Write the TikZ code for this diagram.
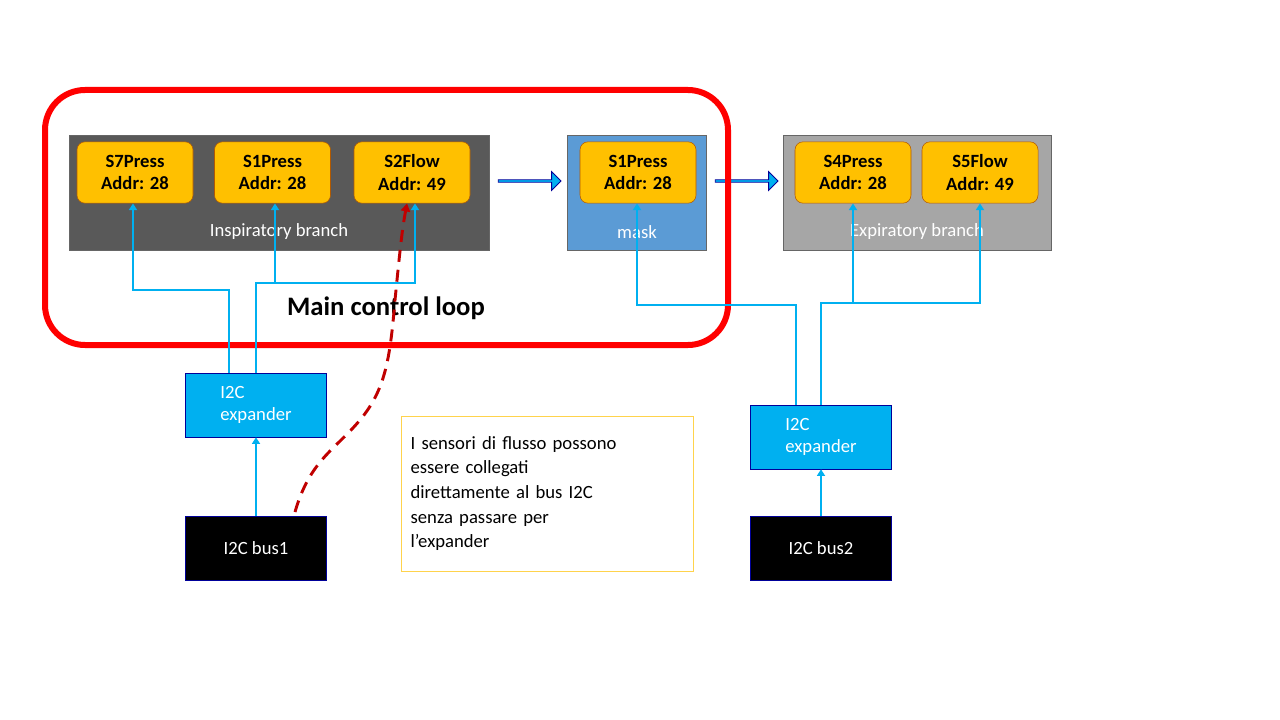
\documentclass[tikz,border=0pt]{standalone}
\usepackage{fontspec}
\setmainfont{Carlito}
\usetikzlibrary{arrows.meta,shapes.arrows}
\definecolor{cyanb}{HTML}{00B0F0}
\definecolor{sensy}{HTML}{FFC000}
\definecolor{darkg}{HTML}{595959}
\definecolor{maskb}{HTML}{5B9BD5}
\definecolor{lightg}{HTML}{A6A6A6}
\definecolor{dred}{HTML}{C00000}
\begin{document}
\begin{tikzpicture}[x=0.75pt,y=-0.75pt,
  sensor/.style={draw=orange!70!black,fill=sensy,rounded corners=6pt,minimum width=87pt,minimum height=46pt,
    inner sep=0pt,align=center,font=\fontsize{14}{17}\selectfont\bfseries},
  branch/.style={draw=gray!80!black,minimum height=86pt,inner sep=0pt},
  box/.style={minimum width=106pt,minimum height=48pt,inner sep=0pt,text=white,font=\fontsize{14}{17}\selectfont},
  wire/.style={cyanb,line width=2.2pt},
  tip/.style={-{Triangle[width=6pt,length=5pt]}},
  barrow/.style={single arrow,draw=blue!60!black,fill=cyanb,minimum height=47pt,minimum width=14pt,
    single arrow head extend=2pt,inner sep=0pt,line width=0.6pt}]
\useasboundingbox (0,0) rectangle (1280,720);
% branches
\node[branch,fill=darkg,minimum width=315pt] (insp) at (279.5,192.5) {};
\node[branch,fill=maskb,minimum width=104pt] (mask) at (636.5,192.5) {};
\node[branch,fill=lightg,minimum width=201pt] (exp) at (917,192.5) {};
\node[text=white,font=\fontsize{14}{17}\selectfont] (tinsp) at (279,232) {Inspiratory branch};
\node[text=white,font=\fontsize{14}{17}\selectfont] (tmask) at (637,232) {mask};
\node[text=white,font=\fontsize{14}{17}\selectfont] (texp) at (917,232) {Expiratory branch};
% sensors
\node[sensor] (s7) at (135,172.5) {S7Press\\Addr: 28};
\node[sensor] (s1) at (272.5,172.5) {S1Press\\Addr: 28};
\node[sensor] (s2) at (412,172.5) {S2Flow\\Addr: 49};
\node[sensor] (sm) at (638,172.5) {S1Press\\Addr: 28};
\node[sensor] (s4) at (853,172.5) {S4Press\\Addr: 28};
\node[sensor] (s5) at (980,172.5) {S5Flow\\Addr: 49};
% block arrows
\node[barrow] (a1) at (529,181) {};
\node[barrow] (a2) at (746,181) {};
% control loop
\draw[red,line width=4.5pt,rounded corners=30pt] (45,90) rectangle (728,345);
\node[font=\fontsize{20}{24}\selectfont\bfseries] (loop) at (386,308) {Main control loop};
% expanders and buses
\node[box,fill=cyanb,draw=blue!60!black,align=left] (e1) at (256,405) {I2C\\expander};
\node[box,fill=black,draw=blue!60!black] (b1) at (256,548.5) {I2C bus1};
\node[box,fill=cyanb,draw=blue!60!black,align=left] (e2) at (821,437) {I2C\\expander};
\node[box,fill=black,draw=blue!60!black] (b2) at (821,548.5) {I2C bus2};
% note
\node[draw=sensy!70,fill=white,minimum width=219pt,minimum height=116pt,inner sep=6pt,align=left,
  text width=205pt,font=\fontsize{14}{18.5}\selectfont,anchor=north west] (note) at (401,416)
  {I sensori di flusso possono\\essere collegati\\direttamente al bus I2C\\senza passare per\\l’expander\vphantom{p}};
% wires
\draw[wire,tip] (b1.north) -- (e1.south);
\draw[wire,tip] (b2.north) -- (e2.south);
\draw[wire,tip] ([xshift=-20.25pt]e1.north) |- (133,290) -- (s7.south -| 133,0);
\draw[wire,tip] (e1.north) |- (415,283) -- (s2.south -| 415,0);
\draw[wire,tip] (275,283) -- (s1.south -| 275,0);
\draw[wire,tip] ([xshift=-18.75pt]e2.north) |- (637,305) -- (sm.south -| 637,0);
\draw[wire,tip] (e2.north) |- (980,303) -- (s5.south -| 980,0);
\draw[wire,tip] (853,303) -- (s4.south -| 853,0);
% direct flow link
\coordinate (d0) at (295,512);
\draw[dred,line width=2.2pt,dash pattern=on 9pt off 6pt,-{Triangle[width=7pt,length=6pt]}]
  (d0) .. controls (310,460) and (335,450) .. (360,420)
  .. controls (385,390) and (390,360) .. (395,300)
  .. controls (400,250) and (402,230) .. (s2.south -| 407,0);
\end{tikzpicture}
\end{document}
